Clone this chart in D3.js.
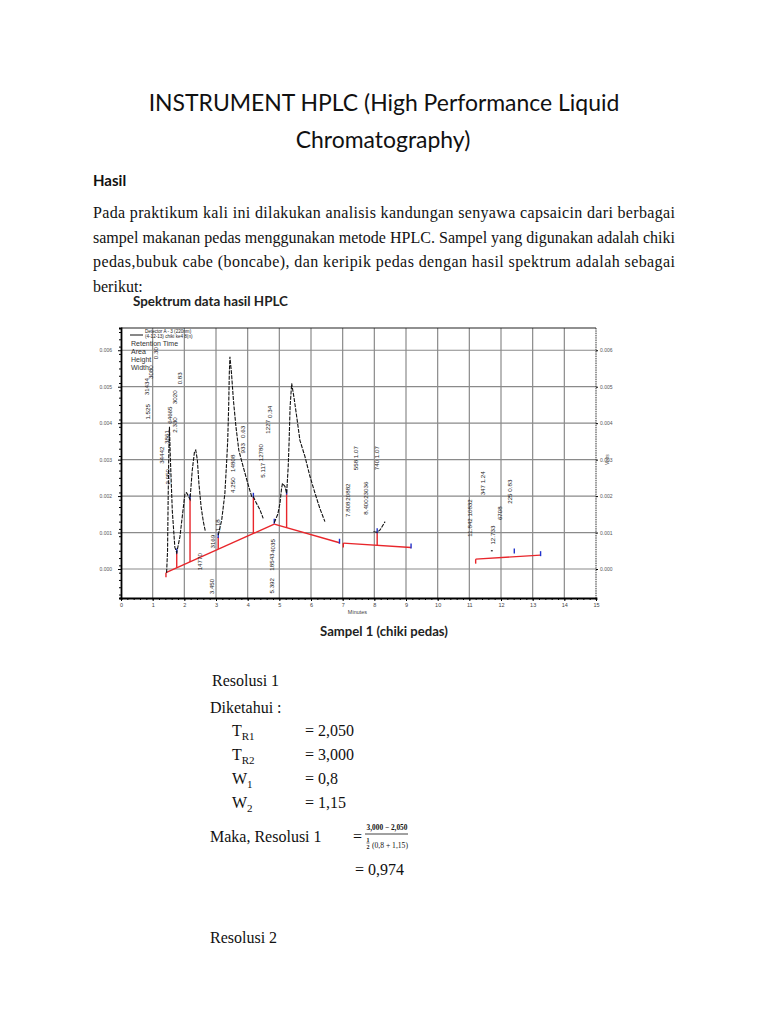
<!DOCTYPE html>
<html><head><meta charset="utf-8">
<script src="https://cdn.jsdelivr.net/npm/d3@7"></script>
<style>body{margin:0;background:#fff}svg{display:block}</style>
</head><body>
<script>
// ---------- DATA ----------
const xTicks = [0,1,2,3,4,5,6,7,8,9,10,11,12,13,14,15];
const yTicks = [0.000,0.001,0.002,0.003,0.004,0.005,0.006];
const yTickLabels = ["0.000","0.001","0.002","0.003","0.004","0.005","0.006"];

// chromatogram trace pieces [minutes, volts]
const traceA = [[1.44,-0.0001],[1.47,0.0005],[1.49,0.0020],[1.51,0.0032],[1.53,0.0039],[1.56,0.0030],[1.62,0.0016],[1.70,0.0006],[1.76,0.00045],[1.86,0.00088],[1.97,0.0017],[2.02,0.00207],[2.07,0.00209],[2.13,0.0020],[2.18,0.00191],[2.25,0.00271],[2.32,0.00321],[2.36,0.00326],[2.41,0.0030],[2.46,0.00235],[2.53,0.0017],[2.60,0.0013],[2.66,0.00105]];
const traceB = [[3.07,0.00093],[3.18,0.00134],[3.28,0.00207],[3.34,0.0030],[3.37,0.00353],[3.40,0.00445],[3.42,0.00536],[3.44,0.00582],[3.49,0.00536],[3.55,0.00463],[3.63,0.0039],[3.72,0.00326],[3.86,0.0028],[4.02,0.0023],[4.13,0.00198],[4.18,0.00198],[4.28,0.0018],[4.39,0.00162],[4.49,0.00139]];
const traceC = [[4.84,0.00127],[4.95,0.0015],[5.02,0.0018],[5.07,0.00221],[5.10,0.00235],[5.18,0.00226],[5.23,0.00207],[5.28,0.0028],[5.31,0.00353],[5.34,0.00445],[5.39,0.00509],[5.46,0.00472],[5.55,0.00417],[5.65,0.00353],[5.81,0.00308],[5.97,0.00253],[6.13,0.00207],[6.28,0.00166],[6.44,0.0013]];
const traceD = [[7.97,0.00102],[8.09,0.00101],[8.18,0.00107],[8.34,0.0013]];
const traceE = [[11.68,0.0005],[11.74,0.0005]];

// integration baselines [t1, v1, t2, v2]
const baselines = [[1.42,-0.0001,4.84,0.00123],[4.84,0.00123,6.90,0.00072],[7.02,0.00071,9.16,0.00059],[11.20,0.00027,13.25,0.00038]];
// peak drop lines [minutes, volts at top]
const drops = [[1.76,0.00045],[2.18,0.00194],[3.07,0.00088],[4.18,0.00198],[5.23,0.00207],[8.09,0.00101]];
// peak start/end marks [minutes, volts]
const marks = [[1.76,0.00045],[2.18,0.00194],[3.07,0.00088],[4.18,0.00198],[4.84,0.00127],[5.23,0.00207],[6.90,0.00072],[8.09,0.00101],[9.16,0.00059],[12.42,0.00045],[13.25,0.00038]];
const startTicks = [[1.42,-0.0001],[7.02,0.00071],[11.20,0.00027]];

// peak annotations [text, minutes, volts]
const peakLabels = [
 ["0.30",1.10,0.00592],["3080",0.95,0.0054],["31434",0.81,0.0050],["1.525",0.86,0.00431],
 ["0.83",1.86,0.00523],["3020",1.71,0.00471],["64665",1.55,0.00422],["2.330",1.71,0.00395],
 ["3861",1.44,0.00362],["34442",1.30,0.00312],["2.050",1.47,0.00253],
 ["14770",2.49,0.0002],["3.450",2.86,-0.00048],["3169",2.90,0.00075],["1.18",3.07,0.0012],
 ["0.34",4.70,0.00431],["1227",4.65,0.0039],["0.63",3.84,0.00376],["933",3.84,0.00331],
 ["14808",3.53,0.0029],["4.250",3.53,0.0023],["12780",4.41,0.00319],["5.117",4.47,0.00271],
 ["4035",4.81,0.00063],["18543",4.76,0.00019],["5.392",4.76,-0.00046],
 ["20882",7.17,0.00211],["7.808",7.17,0.00164],["558   1.07",7.42,0.00304],
 ["23036",7.74,0.00216],["8.400",7.74,0.00170],["740   1.07",8.08,0.00304],
 ["347   1.24",11.44,0.00235],["11.842   10832",11.02,0.0014],["225   0.83",12.28,0.00212],
 ["6708",11.97,0.00153],["12.733",11.74,0.00093]
];
const legendItems = ["Retention Time","Area","Height","Width"];

const paragraph = [
 "Pada praktikum kali ini dilakukan analisis kandungan senyawa capsaicin dari berbagai",
 "sampel makanan pedas menggunakan metode HPLC. Sampel yang digunakan adalah chiki",
 "pedas,bubuk cabe (boncabe), dan keripik pedas dengan hasil spektrum adalah sebagai",
 "berikut:"
];

// ---------- PAGE ----------
const svg = d3.select("body").append("svg").attr("width",768).attr("height",1024);
svg.append("rect").attr("width",768).attr("height",1024).attr("fill","#fff");

function fitText(sel, target){
  const w = sel.node().getComputedTextLength();
  const fs = parseFloat(sel.attr("font-size"));
  sel.attr("font-size", fs*target/w);
}
const title1 = svg.append("text").attr("x",384).attr("y",111).attr("text-anchor","middle")
  .attr("font-family","Lato").attr("font-size",24).attr("fill","#111")
  .text("INSTRUMENT HPLC (High Performance Liquid");
fitText(title1, 471);
svg.append("text").attr("x",383).attr("y",148).attr("text-anchor","middle")
  .attr("font-family","Lato").attr("font-size",title1.attr("font-size")).attr("fill","#111")
  .text("Chromatography)");

svg.append("text").attr("x",93).attr("y",186).attr("font-family","Lato").attr("font-weight","bold")
  .attr("font-size",15).attr("fill","#111").text("Hasil");

paragraph.forEach((line,i)=>{
  const t = svg.append("text").attr("x",93).attr("y",218+i*24.5)
    .attr("font-family","Liberation Serif").attr("font-size",16).attr("fill","#111").text(line);
  if(i<paragraph.length-1) t.attr("textLength",582).attr("lengthAdjust","spacing");
});

const cap1 = svg.append("text").attr("x",133).attr("y",306).attr("font-family","Lato")
  .attr("font-weight","bold").attr("font-size",12).attr("fill","#222").text("Spektrum data hasil HPLC");
fitText(cap1,155);
const cap2 = svg.append("text").attr("x",384).attr("y",636).attr("text-anchor","middle").attr("font-family","Lato")
  .attr("font-weight","bold").attr("font-size",12).attr("fill","#222").text("Sampel 1 (chiki pedas)");
fitText(cap2,128);

// ---------- CHART ----------
const L=121, R=596, T=328, B=598;
const x = d3.scaleLinear().domain([0,15]).range([L,R]);
const y = d3.scaleLinear().domain([-0.000795,0.00661]).range([B,T]);
const g = svg.append("g");

// grid
g.selectAll(".vg").data(xTicks.slice(1,-1)).join("line")
  .attr("x1",d=>x(d)).attr("x2",d=>x(d)).attr("y1",T).attr("y2",B)
  .attr("stroke","#8a8a8a").attr("stroke-width",1.2);
g.selectAll(".hg").data(yTicks).join("line")
  .attr("x1",L).attr("x2",R).attr("y1",d=>y(d)).attr("y2",d=>y(d))
  .attr("stroke","#8a8a8a").attr("stroke-width",1.2);

// frame
g.append("line").attr("x1",L).attr("x2",R).attr("y1",T).attr("y2",T).attr("stroke","#222").attr("stroke-width",1.2);
g.append("line").attr("x1",R).attr("x2",R).attr("y1",T).attr("y2",B).attr("stroke","#333").attr("stroke-width",1).attr("stroke-dasharray","1.5,0.8");

// axes with minor ticks
const minorX = d3.range(0,15.001,0.2);
const minorY = d3.range(-0.0007,0.0066,0.0002);
const axB = g.append("g").attr("transform",`translate(0,${B})`)
  .call(d3.axisBottom(x).tickValues(minorX).tickSize(2).tickFormat(""));
axB.select(".domain").attr("stroke-width",1.8);
const axBl = g.append("g").attr("transform",`translate(0,${B})`)
  .call(d3.axisBottom(x).tickValues(xTicks).tickSize(3).tickPadding(2).tickFormat(d=>d));
axBl.select(".domain").remove();
axBl.selectAll("text").attr("font-size",5.5).attr("font-family","Liberation Sans").attr("fill","#444");

const axL = g.append("g").attr("transform",`translate(${L},0)`)
  .call(d3.axisLeft(y).tickValues(minorY).tickSize(2).tickFormat(""));
axL.select(".domain").attr("stroke-width",1.8);
const axLl = g.append("g").attr("transform",`translate(${L},0)`)
  .call(d3.axisLeft(y).tickValues(yTicks).tickSize(3).tickPadding(6).tickFormat((d,i)=>yTickLabels[i]));
axLl.select(".domain").remove();
axLl.selectAll("text").attr("font-size",5).attr("font-family","Liberation Sans").attr("fill","#555");
const axR = g.append("g").attr("transform",`translate(${R},0)`)
  .call(d3.axisRight(y).tickValues(yTicks).tickSize(2).tickPadding(2).tickFormat((d,i)=>yTickLabels[i]));
axR.select(".domain").remove();
axR.selectAll("text").attr("font-size",5).attr("font-family","Liberation Sans").attr("fill","#555");

g.append("text").attr("x",(L+R)/2-1).attr("y",614).attr("text-anchor","middle")
  .attr("font-family","Liberation Sans").attr("font-size",5.5).attr("fill","#444").text("Minutes");
g.append("text").attr("transform",`translate(609,${y(0.003)}) rotate(-90)`).attr("text-anchor","middle")
  .attr("font-family","Liberation Sans").attr("font-size",5).attr("fill","#555").text("Volts");

// baselines (red)
const red="#e8262b", blue="#2233cc";
g.selectAll(".bl").data(baselines).join("line")
  .attr("x1",d=>x(d[0])).attr("y1",d=>y(d[1])).attr("x2",d=>x(d[2])).attr("y2",d=>y(d[3]))
  .attr("stroke",red).attr("stroke-width",1.4);
function baseAt(t){
  for(const b of baselines){ if(t>=b[0]-1e-9 && t<=b[2]+1e-9) return b[1]+(b[3]-b[1])*(t-b[0])/(b[2]-b[0]); }
  return 0;
}
g.selectAll(".dr").data(drops).join("line")
  .attr("x1",d=>x(d[0])).attr("x2",d=>x(d[0])).attr("y1",d=>y(baseAt(d[0]))).attr("y2",d=>y(d[1]))
  .attr("stroke",red).attr("stroke-width",1.4);
g.selectAll(".st").data(startTicks).join("line")
  .attr("x1",d=>x(d[0])).attr("x2",d=>x(d[0])).attr("y1",d=>y(d[1])).attr("y2",d=>y(d[1])+4.5)
  .attr("stroke",red).attr("stroke-width",1.4);
g.selectAll(".mk").data(marks).join("line")
  .attr("x1",d=>x(d[0])).attr("x2",d=>x(d[0])).attr("y1",d=>y(d[1])+1).attr("y2",d=>y(d[1])-4)
  .attr("stroke",blue).attr("stroke-width",1.4);

// trace
const line = d3.line().x(d=>x(d[0])).y(d=>y(d[1]));
[traceA,traceB,traceC,traceD,traceE].forEach(tr=>{
  g.append("path").attr("d",line(tr)).attr("fill","none").attr("stroke","#111")
   .attr("stroke-width",1.1).attr("stroke-dasharray","4,1.2");
});

// peak labels
g.selectAll(".pl").data(peakLabels).join("text")
  .attr("transform",d=>`translate(${x(d[1])+2},${y(d[2])}) rotate(-90)`)
  .attr("text-anchor","middle").attr("font-family","Liberation Sans").attr("font-size",6.2)
  .attr("fill","#222").text(d=>d[0]);

// legend
g.append("line").attr("x1",130).attr("x2",143).attr("y1",335).attr("y2",335).attr("stroke","#111").attr("stroke-width",1);
g.append("text").attr("x",145).attr("y",333).attr("font-family","Liberation Sans").attr("font-size",4.6).attr("fill","#222").text("Detector A - 3 (220nm)");
g.append("text").attr("x",145).attr("y",338).attr("font-family","Liberation Sans").attr("font-size",4.6).attr("fill","#222").text("(4-12-13) chiki ke4 8(n)");
legendItems.forEach((s,i)=>{
  g.append("text").attr("x",131).attr("y",346+i*8).attr("font-family","Liberation Sans")
   .attr("font-size",7).attr("fill","#333").text(s);
});

// ---------- CALCULATION TEXT ----------
const serif = "Liberation Serif";
function txt(xx,yy,s,fs=16,anchor="start"){
  return svg.append("text").attr("x",xx).attr("y",yy).attr("font-family",serif).attr("font-size",fs)
    .attr("fill","#111").attr("text-anchor",anchor).text(s);
}
txt(212,686,"Resolusi 1");
txt(210,713,"Diketahui :");
function sub(xx,yy,main,s){
  const t = svg.append("text").attr("x",xx).attr("y",yy).attr("font-family",serif).attr("font-size",16).attr("fill","#111");
  t.append("tspan").text(main);
  t.append("tspan").attr("font-size",11).attr("dy",4).text(s);
}
sub(232,736,"T","R1"); txt(305,736,"= 2,050");
sub(232,760,"T","R2"); txt(305,760,"= 3,000");
sub(232,784,"W","1"); txt(305,784,"= 0,8");
sub(232,808,"W","2"); txt(305,808,"= 1,15");
txt(210,842,"Maka, Resolusi 1");
txt(353,842,"=");
const num = svg.append("text").attr("x",387).attr("y",830).attr("text-anchor","middle").attr("font-family","Liberation Serif")
  .attr("font-weight","bold").attr("font-size",9).attr("fill","#111").text("3,000 − 2,050");
fitText(num,41);
svg.append("line").attr("x1",365).attr("x2",408).attr("y1",834).attr("y2",834).attr("stroke","#111").attr("stroke-width",0.8);
svg.append("text").attr("x",368).attr("y",841.5).attr("text-anchor","middle").attr("font-family","Liberation Serif")
  .attr("font-weight","bold").attr("font-size",6).attr("fill","#111").text("1");
svg.append("line").attr("x1",366.5).attr("x2",369.5).attr("y1",843).attr("y2",843).attr("stroke","#111").attr("stroke-width",0.6);
svg.append("text").attr("x",368).attr("y",849).attr("text-anchor","middle").attr("font-family","Liberation Serif")
  .attr("font-weight","bold").attr("font-size",6).attr("fill","#111").text("2");
const den = svg.append("text").attr("x",372).attr("y",848).attr("font-family","Liberation Serif")
  .attr("font-size",9).attr("fill","#111").text("(0,8 + 1,15)");
fitText(den,36);
txt(355,875,"= 0,974");
txt(210,943,"Resolusi 2");
</script>
</body></html>
